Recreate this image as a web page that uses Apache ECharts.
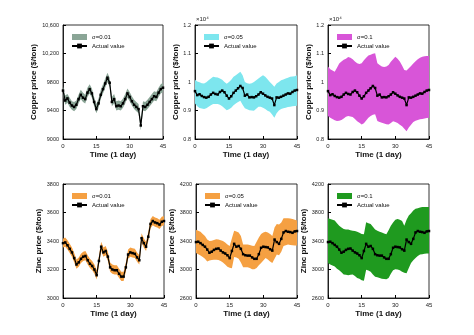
<!DOCTYPE html>
<html><head><meta charset="utf-8">
<script src="https://cdn.jsdelivr.net/npm/echarts@6/dist/echarts.min.js"></script>
<style>html,body{margin:0;padding:0;background:#fff}#c{width:474px;height:335px}</style>
</head><body><div id="c"></div>
<script>
const days = [0,1,2,3,4,5,6,7,8,9,10,11,12,13,14,15,16,17,18,19,20,21,22,23,24,25,26,27,28,29,30,31,32,33,34,35,36,37,38,39,40,41,42,43,44,45];
const xTickLabels = ['0','15','30','45'];

const copperActual = [9680,9540,9570,9510,9470,9450,9480,9560,9620,9580,9560,9650,9700,9640,9520,9420,9500,9620,9700,9780,9860,9790,9520,9560,9460,9470,9460,9500,9560,9640,9590,9530,9480,9450,9420,9190,9460,9450,9480,9520,9560,9600,9590,9650,9700,9720];
const copperUpper001 = [9740,9610,9630,9580,9530,9520,9540,9620,9690,9650,9620,9720,9770,9710,9590,9490,9570,9690,9770,9850,9930,9860,9590,9630,9530,9540,9530,9570,9630,9710,9660,9600,9550,9520,9490,9270,9530,9520,9550,9590,9630,9670,9660,9720,9770,9790];
const copperLower001 = [9620,9480,9510,9450,9410,9390,9420,9500,9560,9520,9500,9590,9640,9580,9460,9360,9440,9560,9640,9720,9800,9730,9460,9500,9400,9410,9400,9440,9500,9580,9530,9470,9420,9390,9360,9120,9400,9390,9420,9460,9500,9540,9530,9590,9640,9660];
const copperUpper005 = [10080,10020,9990,9960,9950,9990,10060,10120,10180,10170,10160,10120,10080,10000,9940,10000,10080,10180,10240,10300,10360,10240,10000,9960,9940,9960,10000,10060,10120,10180,10240,10180,10100,10000,9920,9830,9950,10000,10060,10090,10120,10150,10180,10190,10200,10240];
const copperLower005 = [9250,9150,9090,9070,9050,9080,9130,9180,9230,9230,9230,9200,9150,9080,9010,9040,9100,9180,9250,9300,9345,9200,9080,9040,9010,9000,8990,9060,9130,9130,9100,9050,8990,8960,8860,8750,8900,9000,9050,9080,9100,9120,9130,9150,9160,9170];
const copperUpper01 = [10540,10450,10400,10360,10500,10650,10720,10780,10820,10880,10850,10800,10720,10660,10630,10660,10760,10850,10930,10960,10990,11010,10660,10600,10540,10530,10540,10600,10710,10800,10890,10820,10720,10580,10420,10400,10480,10560,10650,10730,10800,10850,10890,10900,10910,10915];
const copperLower01 = [8810,8750,8700,8660,8630,8640,8670,8720,8780,8810,8790,8770,8700,8620,8570,8510,8550,8650,8750,8810,8850,8870,8630,8600,8570,8540,8520,8510,8560,8620,8600,8560,8500,8450,8360,8275,8400,8500,8600,8640,8670,8690,8700,8720,8740,8750];

const zincActual = [3385,3390,3370,3345,3320,3280,3235,3250,3275,3290,3295,3265,3240,3225,3200,3160,3260,3360,3320,3330,3290,3215,3200,3195,3195,3170,3150,3150,3215,3305,3320,3315,3310,3285,3265,3420,3385,3360,3430,3520,3540,3530,3525,3515,3535,3540];
const zincUpper001 = [3415,3425,3405,3380,3355,3315,3270,3285,3310,3325,3330,3300,3275,3260,3235,3195,3295,3395,3355,3365,3325,3250,3235,3230,3230,3205,3185,3185,3250,3340,3355,3350,3345,3320,3300,3455,3420,3395,3465,3555,3575,3565,3560,3550,3570,3575];
const zincLower001 = [3355,3360,3340,3315,3290,3250,3205,3220,3245,3260,3265,3235,3210,3195,3170,3130,3230,3330,3290,3300,3260,3185,3170,3165,3165,3140,3120,3120,3185,3275,3290,3285,3280,3255,3235,3390,3355,3330,3400,3490,3510,3500,3495,3485,3505,3510];
const zincUpper005 = [3557,3545,3529,3500,3471,3420,3400,3405,3415,3424,3420,3410,3400,3380,3352,3329,3440,3543,3535,3520,3471,3352,3350,3350,3345,3335,3329,3390,3448,3500,3519,3530,3520,3500,3471,3590,3638,3630,3660,3719,3720,3720,3715,3710,3700,3686];
const zincLower005 = [3233,3215,3195,3176,3150,3114,3125,3135,3138,3138,3135,3120,3100,3070,3040,3025,3019,3176,3170,3150,3100,3033,3030,3030,3020,3005,3005,3020,3060,3090,3125,3162,3140,3114,3090,3150,3210,3200,3250,3329,3340,3352,3345,3340,3338,3338];
const zincUpper01 = [3719,3710,3700,3686,3650,3614,3590,3567,3560,3560,3550,3543,3540,3530,3515,3500,3495,3662,3650,3638,3600,3560,3543,3530,3520,3505,3495,3550,3614,3660,3700,3710,3700,3680,3614,3700,3757,3790,3829,3852,3860,3870,3876,3876,3876,3876];
const zincLower01 = [3090,3070,3055,3043,3010,2990,2960,2930,2925,2920,2925,2930,2910,2880,2870,2850,2843,2995,2985,2970,2930,2900,2890,2880,2870,2865,2862,2880,2940,2990,3005,3000,2990,2970,2955,2948,3020,3090,3130,3162,3190,3210,3215,3220,3224,3224];

const copperTicks001 = ['9000','9400','9800','10,200','10,600'];
const copperTicksE4 = ['0.8','0.9','1','1.1','1.2'];
const zincTicks001 = ['3000','3200','3400','3600','3800'];
const zincTicksWide = ['2600','3000','3400','3800','4200'];

const FONT = 'Liberation Sans, Arial, sans-serif';
const panels = [
  {grid:{left:63,top:25,width:100,height:114}, min:9000,max:10600,step:400, ticks:copperTicks001, actual:copperActual, lo:copperLower001, hi:copperUpper001, color:'#8aa596', name:'σ=0.01', ytitle:'Copper price ($/ton)', gap:20},
  {grid:{left:195,top:25,width:102,height:114}, min:8000,max:12000,step:1000, ticks:copperTicksE4, actual:copperActual, lo:copperLower005, hi:copperUpper005, color:'#7de6ee', name:'σ=0.05', ytitle:'Copper price ($/ton)', gap:10},
  {grid:{left:328,top:25,width:101,height:114}, min:8000,max:12000,step:1000, ticks:copperTicksE4, actual:copperActual, lo:copperLower01, hi:copperUpper01, color:'#d855d8', name:'σ=0.1', ytitle:'Copper price ($/ton)', gap:12},
  {grid:{left:63,top:184,width:101,height:114}, min:3000,max:3800,step:200, ticks:zincTicks001, actual:zincActual, lo:zincLower001, hi:zincUpper001, color:'#f5a042', name:'σ=0.01 ', ytitle:'Zinc price ($/ton)', gap:19},
  {grid:{left:196,top:184,width:101,height:114}, min:2600,max:4200,step:400, ticks:zincTicksWide, actual:zincActual, lo:zincLower005, hi:zincUpper005, color:'#f5a042', name:'σ=0.05 ', ytitle:'Zinc price ($/ton)', gap:19},
  {grid:{left:328,top:184,width:101,height:114}, min:2600,max:4200,step:400, ticks:zincTicksWide, actual:zincActual, lo:zincLower01, hi:zincUpper01, color:'#1f9a1f', name:'σ=0.1 ', ytitle:'Zinc price ($/ton)', gap:19}
];

const grid=[],xAxis=[],yAxis=[],series=[],legend=[];
panels.forEach((p,i)=>{
  grid.push(Object.assign({show:true,borderColor:'#000',borderWidth:0.8,backgroundColor:'#fff'},p.grid));
  xAxis.push({type:'category',gridIndex:i,data:days.map(String),boundaryGap:false,
    axisLine:{lineStyle:{color:'#000',width:0.8}},
    axisTick:{inside:true,interval:14,length:3,lineStyle:{color:'#000'}},
    axisLabel:{interval:14,fontSize:6,color:'#222',fontFamily:FONT,margin:4,formatter:v=>xTickLabels[Number(v)/15]},
    name:'Time (1 day)',nameLocation:'middle',nameGap:12,
    nameTextStyle:{fontSize:8,fontWeight:'bold',color:'#111',fontFamily:FONT},
    splitLine:{show:false}});
  yAxis.push({type:'value',gridIndex:i,min:p.min,max:p.max,interval:p.step,
    axisLine:{show:true,lineStyle:{color:'#000',width:0.8}},
    axisTick:{show:true,inside:true,length:3,lineStyle:{color:'#000'}},
    axisLabel:{fontSize:5.5,color:'#222',fontFamily:FONT,margin:4,formatter:v=>p.ticks[Math.round((v-p.min)/p.step)]},
    name:p.ytitle,nameLocation:'middle',nameGap:p.gap,
    nameTextStyle:{fontSize:8,fontWeight:'bold',color:'#111',fontFamily:FONT},
    splitLine:{show:false}});
  series.push({type:'line',xAxisIndex:i,yAxisIndex:i,stack:'band'+i,data:p.lo,symbol:'none',
    lineStyle:{opacity:0},silent:true,name:'base'+i});
  series.push({type:'line',xAxisIndex:i,yAxisIndex:i,stack:'band'+i,name:p.name,
    data:p.hi.map((h,k)=>h-p.lo[k]),symbol:'none',lineStyle:{opacity:0},
    itemStyle:{color:p.color},areaStyle:{color:p.color,opacity:1},silent:true});
  series.push({type:'line',xAxisIndex:i,yAxisIndex:i,name:'Actual value',data:p.actual,
    symbol:'rect',symbolSize:2.5,showSymbol:true,showAllSymbol:true,itemStyle:{color:'#000'},lineStyle:{color:'#000',width:1.2}});
  legend.push({left:p.grid.left+3,top:p.grid.top+4,orient:'vertical',itemWidth:15,itemHeight:6,itemGap:3,
    textStyle:{fontSize:6,color:'#111',fontFamily:FONT},selectedMode:false,
    data:[{name:p.name,icon:'rect'},{name:'Actual value'}]});
});

const chart = echarts.init(document.getElementById('c'),null,{renderer:'canvas'});
chart.setOption({
  animation:false,
  grid,xAxis,yAxis,series,legend,
  graphic:[
    {type:'text',left:196,top:16,style:{text:'×10⁴',fontSize:6,fill:'#222',fontFamily:FONT}},
    {type:'text',left:329,top:16,style:{text:'×10⁴',fontSize:6,fill:'#222',fontFamily:FONT}}
  ]
});
</script></body></html>
